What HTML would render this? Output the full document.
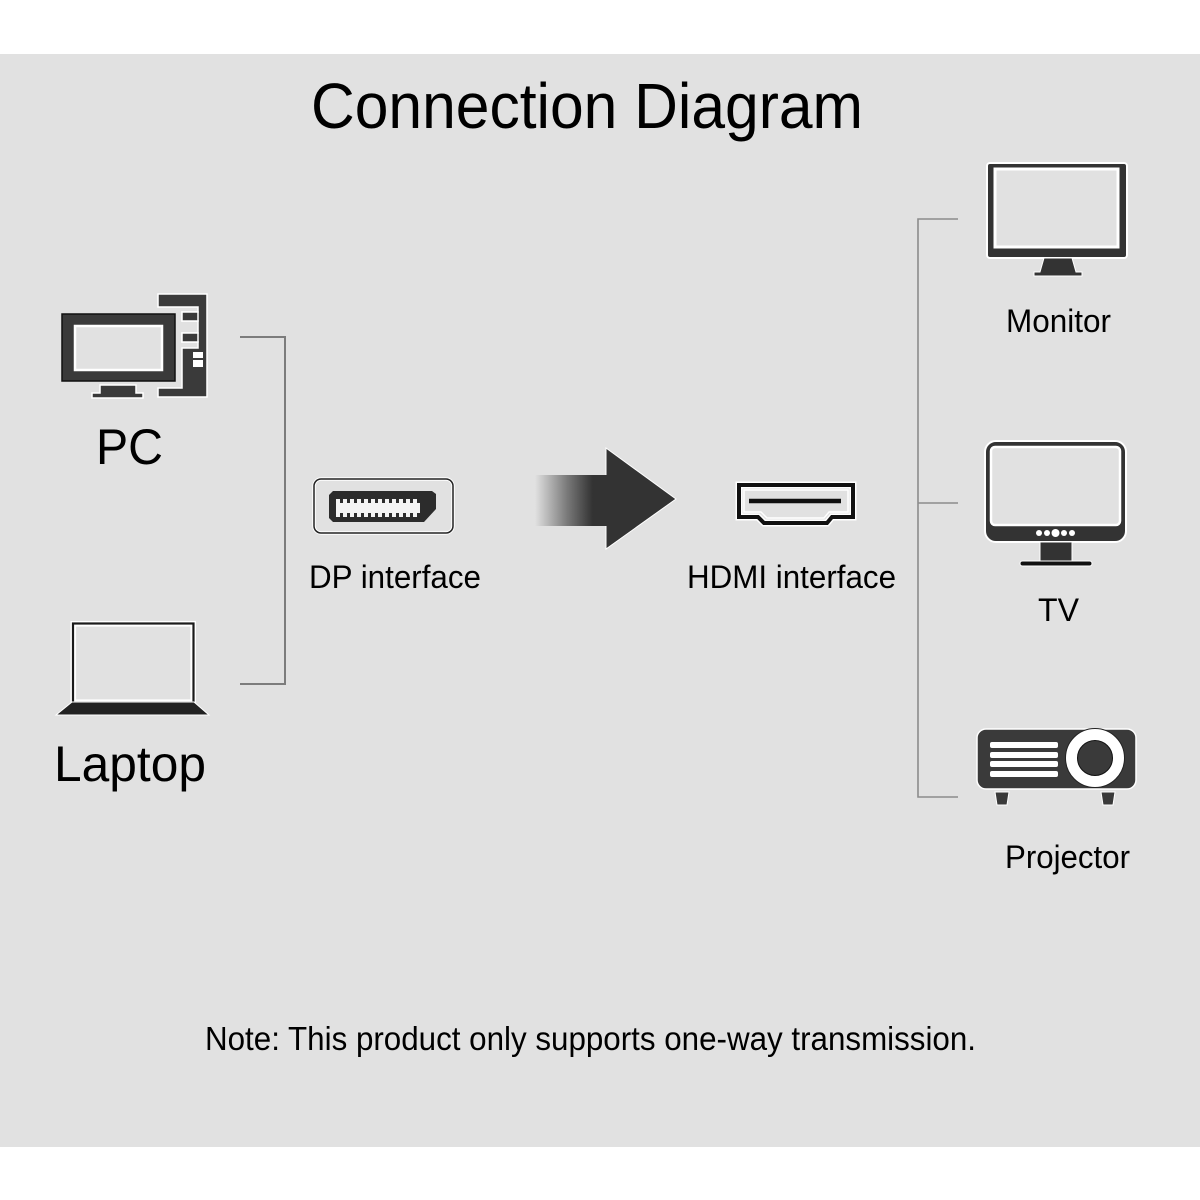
<!DOCTYPE html>
<html><head><meta charset="utf-8"><style>html,body{margin:0;padding:0;background:#fff}svg{display:block}text{font-family:"Liberation Sans",sans-serif;fill:#000}</style></head>
<body>
<svg width="1200" height="1200" viewBox="0 0 1200 1200" xmlns="http://www.w3.org/2000/svg">
<defs><linearGradient id="g" gradientUnits="userSpaceOnUse" x1="535" y1="0" x2="607" y2="0"><stop offset="0" stop-color="#333" stop-opacity="0"/><stop offset=".45" stop-color="#333" stop-opacity=".6"/><stop offset=".8" stop-color="#333"/><stop offset="1" stop-color="#333"/></linearGradient></defs>
<rect width="1200" height="1200" fill="#fff"/>
<rect y="54" width="1200" height="1093" fill="#e1e1e1"/>

<text x="311" y="128" font-size="64" textLength="552" lengthAdjust="spacingAndGlyphs">Connection Diagram</text>
<text x="96" y="464" font-size="50" textLength="67" lengthAdjust="spacingAndGlyphs">PC</text>
<text x="54" y="781" font-size="50" textLength="152" lengthAdjust="spacingAndGlyphs">Laptop</text>
<text x="309" y="588" font-size="32" textLength="172" lengthAdjust="spacingAndGlyphs">DP interface</text>
<text x="687" y="588" font-size="32" textLength="209" lengthAdjust="spacingAndGlyphs">HDMI interface</text>
<text x="1006" y="332" font-size="32" textLength="105" lengthAdjust="spacingAndGlyphs">Monitor</text>
<text x="1038" y="621" font-size="32" textLength="41" lengthAdjust="spacingAndGlyphs">TV</text>
<text x="1005" y="868" font-size="32" textLength="125" lengthAdjust="spacingAndGlyphs">Projector</text>
<text x="205" y="1050" font-size="33" textLength="771" lengthAdjust="spacingAndGlyphs">Note: This product only supports one-way transmission.</text>

<!-- connectors -->
<path d="M240 337H285V684H240" fill="none" stroke="#7c7c7c" stroke-width="2"/>
<path d="M958 219H918V797H958M918 503H958" fill="none" stroke="#8c8c8c" stroke-width="1.6"/>

<!-- PC -->
<g stroke="#fff" stroke-width="1.5">
<path d="M158 294H207V397H158V388H182V348H198V342H182V333H198V321H182V312H198V307H158Z" fill="#3a3a3a" stroke="#fff"/>
<rect x="62" y="314" width="113" height="67" fill="#3a3a3a" stroke="#111" stroke-width="1.5"/>
<rect x="75" y="326" width="87" height="44" fill="#e1e1e1" stroke="#fff" stroke-width="2.5"/>
<path d="M100 385H136V393H143V398H92V393H100Z" fill="#3a3a3a"/>
<rect x="182" y="312" width="16" height="9" fill="#3a3a3a"/>
<rect x="182" y="333" width="16" height="9" fill="#3a3a3a"/>
<rect x="193" y="352" width="10" height="6" fill="#fff" stroke="none"/>
<rect x="193" y="360" width="10" height="7" fill="#fff" stroke="none"/>
</g>

<!-- Laptop -->
<rect x="73" y="623.500" width="120.500" height="79" fill="#e1e1e1" stroke="#fff" stroke-width="5"/>
<rect x="73" y="623.500" width="120.500" height="79" fill="none" stroke="#1a1a1a" stroke-width="2.200"/>
<rect x="75.500" y="626" width="115.500" height="74" fill="none" stroke="#fff" stroke-width="1.200"/>
<path d="M72 702H194L209 715H56Z" fill="#222" stroke="#fff" stroke-width="1"/>

<!-- DP -->
<rect x="314" y="479" width="139" height="54" rx="7" fill="#e1e1e1" stroke="#fff" stroke-width="3.500"/>
<rect x="314" y="479" width="139" height="54" rx="7" fill="none" stroke="#222" stroke-width="1.500"/>
<path d="M333 491H432L436 494V509L424 522H333L329 518V495Z" fill="#2c2c2c"/>
<rect x="336" y="503" width="84" height="10" fill="#f4f4f4"/>
<path d="M336 508H420" fill="none" stroke="#f4f4f4" stroke-width="18" stroke-dasharray="4 3"/>

<!-- Arrow -->
<rect x="535" y="475" width="73" height="51" fill="url(#g)"/>
<path d="M606 448L676 499L606 549Z" fill="#333" stroke="#fff" stroke-width="1"/>
<path d="M606 475V526" stroke="#333" stroke-width="2"/>

<!-- HDMI -->
<path d="M739 485H853V517H832L827 523H764L758 517H739Z" fill="#e1e1e1" stroke="#fff" stroke-width="7"/>
<path d="M739 485H853V517H832L827 523H764L758 517H739Z" fill="none" stroke="#111" stroke-width="4"/>
<path d="M744 490H848V512H829L824 518H767L761 512H744Z" fill="none" stroke="#fff" stroke-width="1.500"/>
<path d="M749 501H841" stroke="#111" stroke-width="4.500"/>

<!-- Monitor -->
<rect x="987" y="163" width="140" height="95" rx="3" fill="#333" stroke="#fff" stroke-width="2"/>
<rect x="995" y="169" width="123" height="78" fill="#e1e1e1" stroke="#fff" stroke-width="3"/>
<path d="M1044 258H1072L1076 272H1082V276H1034V272H1040Z" fill="#333" stroke="#fff" stroke-width="1"/>

<!-- TV -->
<rect x="985" y="441" width="141" height="101" rx="11" fill="#333" stroke="#fff" stroke-width="2"/>
<rect x="991" y="447" width="129" height="78" rx="4" fill="#e1e1e1" stroke="#fff" stroke-width="2.500"/>
<g fill="#fff"><circle cx="1039" cy="533" r="3"/><circle cx="1047" cy="533" r="3"/><circle cx="1055.500" cy="533" r="4"/><circle cx="1064" cy="533" r="3"/><circle cx="1072" cy="533" r="3"/></g>
<path d="M1040 542H1072V561H1040Z" fill="#333" stroke="#fff" stroke-width="1"/>
<rect x="1020" y="561" width="72" height="5" rx="2.500" fill="#111" stroke="#fff" stroke-width="1"/>

<!-- Projector -->
<rect x="977" y="729" width="159" height="60" rx="9" fill="#3a3a3a" stroke="#fff" stroke-width="1.500"/>
<g fill="#fff"><rect x="990" y="742" width="68" height="6" rx="2"/><rect x="990" y="752" width="68" height="6" rx="2"/><rect x="990" y="761" width="68" height="6" rx="2"/><rect x="990" y="771" width="68" height="6" rx="2"/></g>
<circle cx="1095" cy="758" r="29.500" fill="#fff" stroke="#222" stroke-width="1"/>
<circle cx="1095" cy="758" r="17.500" fill="#3a3a3a" stroke="#111" stroke-width="1"/>
<path d="M995 792H1009L1007 805H997Z" fill="#3a3a3a" stroke="#fff" stroke-width="1"/>
<path d="M1101 792H1115L1113 805H1103Z" fill="#3a3a3a" stroke="#fff" stroke-width="1"/>
</svg>
</body></html>
